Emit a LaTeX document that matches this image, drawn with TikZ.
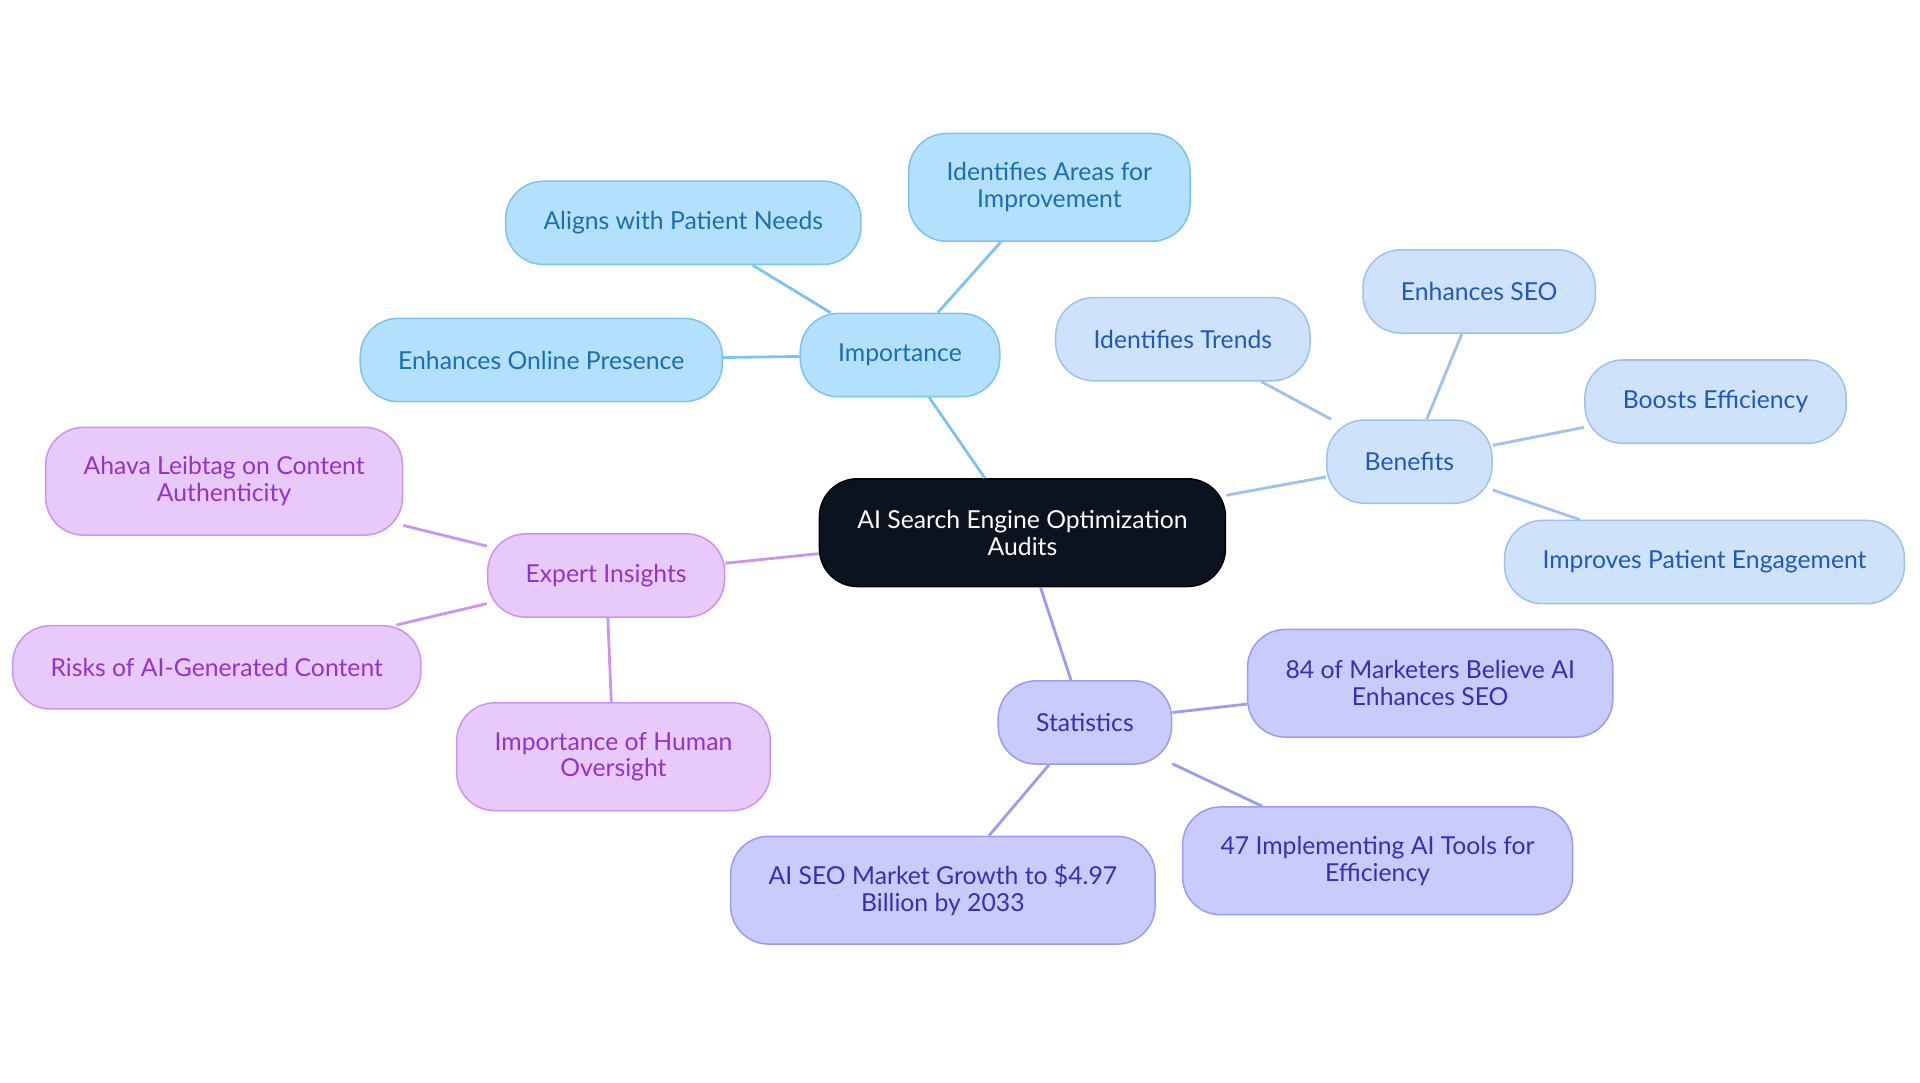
\documentclass[tikz,border=0pt]{standalone}
\usepackage{fontspec}
\setmainfont{Lato}
\definecolor{impFill}{HTML}{B3E0FD}\definecolor{impLine}{HTML}{7DC3F0}\definecolor{impText}{HTML}{1A6FB3}
\definecolor{benFill}{HTML}{CFE2FB}\definecolor{benLine}{HTML}{9DC2EF}\definecolor{benText}{HTML}{1E5BB8}
\definecolor{staFill}{HTML}{C9CBFC}\definecolor{staLine}{HTML}{9A9CF0}\definecolor{staText}{HTML}{3431B5}
\definecolor{expFill}{HTML}{E8C9FC}\definecolor{expLine}{HTML}{CE93EE}\definecolor{expText}{HTML}{9333C8}
\definecolor{rootFill}{HTML}{0B1320}
\tikzset{
  box/.style={draw, rounded corners=0.62cm, minimum height=1.36cm, inner xsep=0.62cm, align=center, line width=0.7pt, font=\fontsize{11.5}{12.5}\selectfont},
  imp/.style={box, fill=impFill, draw=impLine, text=impText},
  ben/.style={box, fill=benFill, draw=benLine, text=benText},
  sta/.style={box, fill=staFill, draw=staLine, text=staText},
  exp/.style={box, fill=expFill, draw=expLine, text=expText},
  link/.style={line width=1.3pt}
}
\begin{document}
\begin{tikzpicture}[x=0.02cm,y=-0.02cm]
	\useasboundingbox (0,0) rectangle (1568,884);

	\node[box, fill=rootFill, draw=black, text=white, minimum width=6.36cm, minimum height=1.76cm] (root) at (835,435) {AI Search Engine Optimization\\Audits};

	% importance
	\node[imp] (imp) at (735,290) {Importance};
	\node[imp] (align) at (558,182) {Aligns with Patient Needs};
	\node[imp, minimum height=1.76cm] (areas) at (857,153) {Identifies Areas for\\Improvement};
	\node[imp] (online) at (442,294) {Enhances Online Presence};

	% benefits
	\node[ben] (ben) at (1151,377) {Benefits};
	\node[ben] (trends) at (966,277) {Identifies Trends};
	\node[ben] (seo) at (1208,238) {Enhances SEO};
	\node[ben] (boost) at (1401,328) {Boosts Efficiency};
	\node[ben] (engage) at (1392,459) {Improves Patient Engagement};

	% statistics
	\node[sta] (stat) at (886,590) {Statistics};
	\node[sta, minimum height=1.76cm] (market) at (1168,558) {84 of Marketers Believe AI\\Enhances SEO};
	\node[sta, minimum height=1.76cm] (tools) at (1125,703) {47 Implementing AI Tools for\\Efficiency};
	\node[sta, minimum height=1.76cm] (growth) at (770,727) {AI SEO Market Growth to \$4.97\\Billion by 2033};

	% expert insights
	\node[exp] (expert) at (495,470) {Expert Insights};
	\node[exp, minimum height=1.76cm] (ahava) at (183,393) {Ahava Leibtag on Content\\Authenticity};
	\node[exp] (risks) at (177,545) {Risks of AI-Generated Content};
	\node[exp, minimum height=1.76cm] (human) at (501,618) {Importance of Human\\Oversight};

	\begin{scope}[on background layer/.try]
	\end{scope}
	\draw[link, impLine] (root) -- (imp) (imp) -- (align) (imp) -- (areas) (imp) -- (online);
	\draw[link, benLine] (root) -- (ben) (ben) -- (trends) (ben) -- (seo) (ben) -- (boost) (ben) -- (engage);
	\draw[link, staLine] (root) -- (stat) (stat) -- (market) (stat) -- (tools) (stat) -- (growth);
	\draw[link, expLine] (root) -- (expert) (expert) -- (ahava) (expert) -- (risks) (expert) -- (human);
\end{tikzpicture}
\end{document}
